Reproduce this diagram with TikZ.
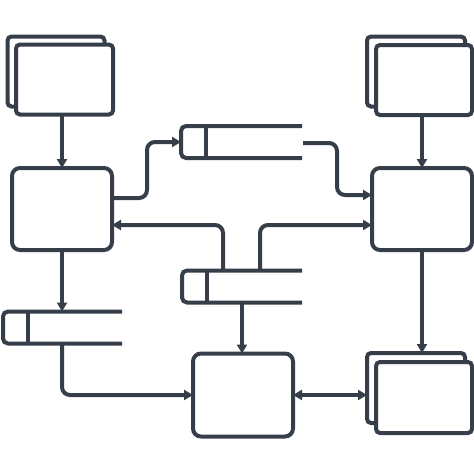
\documentclass[tikz,border=0pt]{standalone}
\usetikzlibrary{arrows.meta,calc}
\definecolor{ink}{HTML}{363F49}
\begin{document}
\begin{tikzpicture}[x=1pt,y=-1pt,line width=4pt,
  every path/.style={draw=ink},
  tip/.tip={Triangle[length=9pt,width=10pt]},
  conn/.style={rounded corners=8pt,-{tip}},
  proc/.style={draw=ink,fill=white,rounded corners=8pt,minimum width=100pt,minimum height=82pt,inner sep=0pt,outer sep=0pt},
  docb/.style={draw=ink,fill=white,rounded corners=4pt,minimum width=97pt,minimum height=70pt,inner sep=0pt,outer sep=0pt},
  store/.style={inner sep=0pt,outer sep=0pt,minimum width=121pt,minimum height=32pt}]
\useasboundingbox[fill=white,draw=none] (0,0) rectangle (474,474);

% process boxes
\node[proc] (lp) at (62,209) {};
\node[proc] (rp) at (422,209) {};
\node[proc,minimum height=83pt] (bp) at (243,395) {};

% document stacks
\node[docb] (tlb) at (56,71.5) {};
\node[docb] (tlf) at (64.5,79.5) {};
\node[docb,minimum width=98pt] (trb) at (416,71.5) {};
\node[docb,minimum width=96pt] (trf) at (424,80) {};
\node[docb,minimum width=98pt] (brb) at (416,388) {};
\node[docb,minimum width=96pt,minimum height=71pt] (brf) at (424,397.5) {};

% data stores
\node[store] (ds1) at (241.5,142) {};
\node[store,minimum width=120pt] (ds2) at (242,286.5) {};
\node[store,minimum width=119pt] (ds3) at (62.5,327.5) {};
\foreach \s in {ds1,ds2,ds3}{
  \draw[rounded corners=5pt] (\s.north east) -- (\s.north west) -- (\s.south west) -- (\s.south east);
  \draw ($(\s.north west)+(24.5,0)$) -- ($(\s.south west)+(24.5,0)$);
}

% connectors
\draw[-{tip}] (tlf.south -| lp.north) -- (lp.north);
\draw[-{tip}] (trf.south -| rp.north) -- (rp.north);
\draw[-{tip}] (rp.south) -- (rp.south |- brb.north);
\draw[-{tip}] (lp.south) -- (lp.south |- ds3.north);
\draw[conn] (lp.east |- 0,198) -- (147,198) -- (147,142) -- (ds1.west);
\draw[conn] (303,143) -- (337,143) -- (337,195) -- (rp.west |- 0,195);
\draw[conn] (ds2.north -| 223,0) -- (223,225) -- (lp.east |- 0,225);
\draw[conn] (ds2.north -| 260,0) -- (260,225) -- (rp.west |- 0,225);
\draw[-{tip}] (ds2.south) -- (ds2.south |- bp.north);
\draw[conn] (ds3.south -| lp.south) -- (62,395) -- (bp.west);
\draw[{tip}-{tip}] (bp.east) -- (brb.west |- bp.east);
\end{tikzpicture}
\end{document}
